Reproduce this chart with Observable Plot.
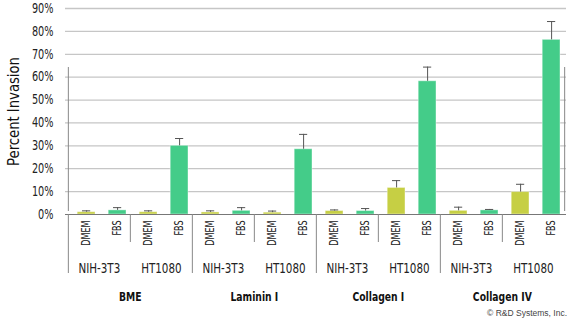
<!DOCTYPE html>
<html>
<head>
<meta charset="utf-8">
<script src="https://cdn.jsdelivr.net/npm/d3@7"></script>
<script src="https://cdn.jsdelivr.net/npm/@observablehq/plot@0.6"></script>
<style>
  html, body { margin: 0; padding: 0; background: #fff; }
  #chart { position: relative; width: 570px; height: 322px; }
  #credit { position: absolute; right: 3px; bottom: 4px; font: 8.5px "Liberation Sans", "DejaVu Sans", sans-serif; color: #444; }
</style>
</head>
<body>
<div id="chart"></div>
<script>
// Data
const substrates = ["BME", "Laminin I", "Collagen I", "Collagen IV"];
const cellLines = ["NIH-3T3", "HT1080"];
const media = ["DMEM", "FBS"];
// values per substrate: [NIH DMEM, NIH FBS, HT DMEM, HT FBS]
const invasion = {
  "BME":         [1.0, 1.8, 1.0, 30.0],
  "Laminin I":   [0.9, 1.6, 0.8, 28.5],
  "Collagen I":  [1.5, 1.5, 11.6, 58.2],
  "Collagen IV": [1.6, 1.8, 9.8, 76.3]
};
const errorTop = {
  "BME":         [1.6, 3.0, 1.6, 33.2],
  "Laminin I":   [1.6, 3.0, 1.5, 35.0],
  "Collagen I":  [2.0, 2.6, 14.8, 64.4],
  "Collagen IV": [3.2, 2.2, 13.2, 84.3]
};
const yTicks = [0, 10, 20, 30, 40, 50, 60, 70, 80, 90];
const colors = {DMEM: "#c6cf44", FBS: "#44cc89"};

const rows = [];
substrates.forEach(s => {
  let k = 0;
  cellLines.forEach(c => {
    media.forEach(m => {
      rows.push({id: `${s}|${c}|${m}`, substrate: s, cell: c, medium: m,
                 value: invasion[s][k], err: errorTop[s][k], first: k === 0, cellStart: k % 2 === 0});
      k++;
    });
  });
});
const ids = rows.map(d => d.id);
const W = 570, H = 322, mL = 65, mR = 4;
const bw = (W - mL - mR) / ids.length;
const font = '"DejaVu Sans", sans-serif';

const chart = Plot.plot({
  width: W, height: H,
  marginLeft: mL, marginRight: mR, marginTop: 8, marginBottom: 108,
  style: {fontFamily: font, fontSize: "12px", color: "#222", background: "#fff"},
  x: {domain: ids, padding: 0, axis: null},
  y: {domain: [0, 90], ticks: yTicks, grid: false, axis: null},
  marks: [
    Plot.ruleY(yTicks.filter(t => t > 0), {stroke: "#c6c6c6", strokeWidth: 1.3}),
    Plot.axisY(yTicks, {tickSize: 0, tickPadding: 12, tickFormat: d => d + "%", fontSize: 13.5,
      label: null, fill: "#222"}),
    Plot.text(["Percent Invasion"], {frameAnchor: "left", textAnchor: "middle", rotate: -90, dx: -51, dy: 0,
      fontSize: 15, fill: "#111"}),
    Plot.barY(rows, {x: "id", y: "value", fill: d => colors[d.medium], insetLeft: 9.2, insetRight: 4, stroke: "#fff", strokeOpacity: 0.4}),
    Plot.ruleX(rows, {x: "id", y1: "value", y2: "err", stroke: "#555", strokeWidth: 1, dx: 2.6}),
    Plot.tickY(rows, {x: "id", y: "err", stroke: "#555", strokeWidth: 1, insetLeft: 14, insetRight: 8.8}),
    Plot.ruleY([0], {stroke: "#777", strokeWidth: 1.2}),
    // medium labels
    Plot.text(rows, {x: "id", text: "medium", frameAnchor: "bottom", rotate: -90, textAnchor: "end",
      lineAnchor: "middle", dx: 2.5, dy: 6, fontSize: 11.5, fill: "#222"}),
    // cell line labels
    Plot.text(rows.filter(d => !d.cellStart), {x: "id", text: "cell", frameAnchor: "bottom",
      lineAnchor: "middle", dx: -bw / 2, dy: 54, fontSize: 14, fill: "#222"}),
    // substrate labels
    Plot.text(rows.filter((d, i) => i % 4 === 2), {x: "id", text: "substrate", frameAnchor: "bottom",
      lineAnchor: "middle", dx: -bw / 2, dy: 82, fontSize: 12.5, fontWeight: "bold", fill: "#111"}),
    // separators between cell lines
    Plot.ruleX(rows.filter(d => d.cellStart && !d.first), {x: "id", dx: -bw / 2, y1: 0, y2: 0,
      insetBottom: -28, stroke: "#888"}),
    // separators between substrates and outer frame
    Plot.ruleX(rows.filter(d => d.first), {x: "id", dx: -bw / 2, y1: 0, y2: 0,
      insetBottom: -59, stroke: "#888"}),
    Plot.ruleX(rows.filter(d => d.first && d.substrate === "BME"), {x: "id", dx: -bw / 2, y1: 0, y2: 90,
      insetBottom: -59, insetTop: -3, stroke: "#888"}),
    Plot.ruleX(rows.slice(-1), {x: "id", dx: bw / 2, y1: 0, y2: 90,
      insetBottom: -59, insetTop: -3, stroke: "#888"})
  ]
});
document.getElementById("chart").appendChild(chart);

// Narrow the typeface to resemble the condensed font of the original
function squeeze(node, s) {
  const t = node.getAttribute("transform");
  if (t) {
    node.setAttribute("transform", t + ` scale(${s},1)`);
  } else {
    const x = +node.getAttribute("x") || 0, y = +node.getAttribute("y") || 0;
    node.setAttribute("x", 0); node.setAttribute("y", 0);
    node.setAttribute("transform", `translate(${x},${y}) scale(${s},1)`);
  }
}
chart.querySelectorAll("text").forEach(node => {
  const txt = node.textContent;
  if (media.includes(txt)) squeeze(node, 0.7);
  else if (cellLines.includes(txt)) squeeze(node, 0.74);
  else if (substrates.includes(txt)) squeeze(node, 0.74);
  else if (/%$/.test(txt)) squeeze(node, 0.72);
  else if (txt === "Percent Invasion") squeeze(node, 0.88);
});

const credit = document.createElement("div");
credit.id = "credit";
credit.textContent = "© R&D Systems, Inc.";
document.getElementById("chart").appendChild(credit);
</script>
</body>
</html>
